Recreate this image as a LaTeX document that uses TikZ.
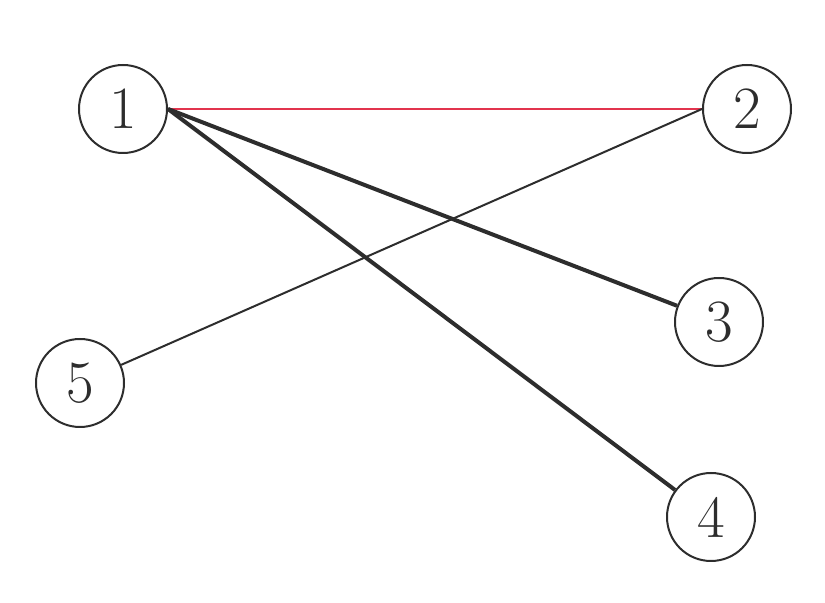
\documentclass[tikz,border=0pt]{standalone}
\usepackage{tikz}
\definecolor{ink}{RGB}{45,45,45}
\definecolor{redline}{RGB}{226,52,78}
\begin{document}
\begin{tikzpicture}[x=0.5pt, y=-0.5pt,
    every node/.style={circle, draw=ink, line width=1pt, minimum size=44pt,
      inner sep=0pt, text=ink, font=\fontsize{30}{30}\selectfont}]
    \useasboundingbox (0,0) rectangle (825,603);
    % Nodes
    \node (1) at (123,109) {1};
    \node (2) at (747,109) {2};
    \node (3) at (719,322) {3};
    \node (4) at (711,517) {4};
    \node (5) at (80,383)  {5};
    % Edges
    \draw[redline, line width=1.2pt] (1.east) -- (2.west);
    \draw[ink, line width=2pt] (1.east) -- (3);
    \draw[ink, line width=2pt] (1.east) -- (4);
    \draw[ink, line width=1pt] (5) -- (2.west);
\end{tikzpicture}
\end{document}
